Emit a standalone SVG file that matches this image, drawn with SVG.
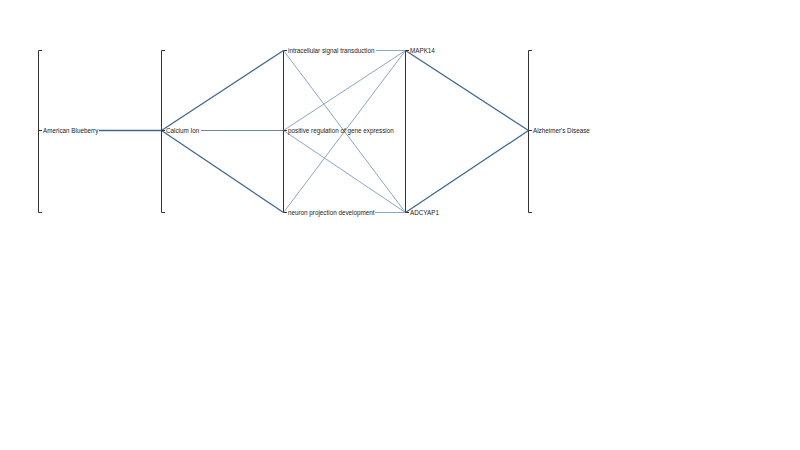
<svg xmlns="http://www.w3.org/2000/svg" width="800" height="450" viewBox="0 0 800 450">
<style>
.br{fill:none;stroke:#333;stroke-width:1}
.tk{stroke:#333;stroke-width:1}
.dk{stroke:#3f6790;stroke-width:1.3;fill:none}
.lt{stroke:#8ca7c4;stroke-width:1;fill:none}
text{font-family:"Liberation Sans",Arial,sans-serif;font-size:6.3px;fill:#222}
</style>
<rect width="800" height="450" fill="#fff"/>
<g id="brackets">
<path class="br" d="M42,50.5H38.5V212.5H42"/>
<path class="br" d="M165,50.5H161.5V212.5H165"/>
<path class="br" d="M287,50.5H283.5V212.5H287"/>
<path class="br" d="M409,50.5H405.5V212.5H409"/>
<path class="br" d="M532,50.5H528.5V212.5H532"/>
</g>
<g id="connectors">
<line class="dk" x1="99" y1="130.5" x2="161.5" y2="130.5"/>
<line class="dk" x1="161.5" y1="130.5" x2="283.5" y2="50.5"/>
<line class="dk" x1="201" y1="130.5" x2="283.5" y2="130.5" style="stroke:#6a88a8;stroke-width:1"/>
<line class="dk" x1="161.5" y1="130.5" x2="283.5" y2="212.5"/>
<line class="lt" x1="376" y1="50.5" x2="405.5" y2="50.5"/>
<line class="lt" x1="283.5" y1="50.5" x2="405.5" y2="212.5"/>
<line class="lt" x1="283.5" y1="130.5" x2="405.5" y2="50.5"/>
<line class="lt" x1="283.5" y1="130.5" x2="405.5" y2="212.5"/>
<line class="lt" x1="283.5" y1="212.5" x2="405.5" y2="50.5"/>
<line class="lt" x1="375" y1="212.5" x2="405.5" y2="212.5"/>
<line class="dk" x1="405.5" y1="50.5" x2="528.5" y2="130.5"/>
<line class="dk" x1="405.5" y1="212.5" x2="528.5" y2="130.5"/>
</g>
<g id="n-american-blueberry"><line class="tk" x1="38.5" y1="130.5" x2="42" y2="130.5"/><text x="43" y="132.7">American Blueberry</text></g>
<g id="n-calcium-ion"><line class="tk" x1="161.5" y1="130.5" x2="165" y2="130.5"/><text x="166" y="132.7">Calcium Ion</text></g>
<g id="n-intracellular"><line class="tk" x1="283.5" y1="50.5" x2="287" y2="50.5"/><text x="288" y="52.7">intracellular signal transduction</text></g>
<g id="n-positive-regulation"><line class="tk" x1="283.5" y1="130.5" x2="287" y2="130.5"/><text x="288" y="132.7">positive regulation of gene expression</text></g>
<g id="n-neuron-projection"><line class="tk" x1="283.5" y1="212.5" x2="287" y2="212.5"/><text x="288" y="214.7">neuron projection development</text></g>
<g id="n-mapk14"><line class="tk" x1="405.5" y1="50.5" x2="409" y2="50.5"/><text x="410" y="52.7">MAPK14</text></g>
<g id="n-adcyap1"><line class="tk" x1="405.5" y1="212.5" x2="409" y2="212.5"/><text x="410" y="214.7">ADCYAP1</text></g>
<g id="n-alzheimers"><line class="tk" x1="528.5" y1="130.5" x2="532" y2="130.5"/><text x="533" y="132.7">Alzheimer's Disease</text></g>
</svg>
